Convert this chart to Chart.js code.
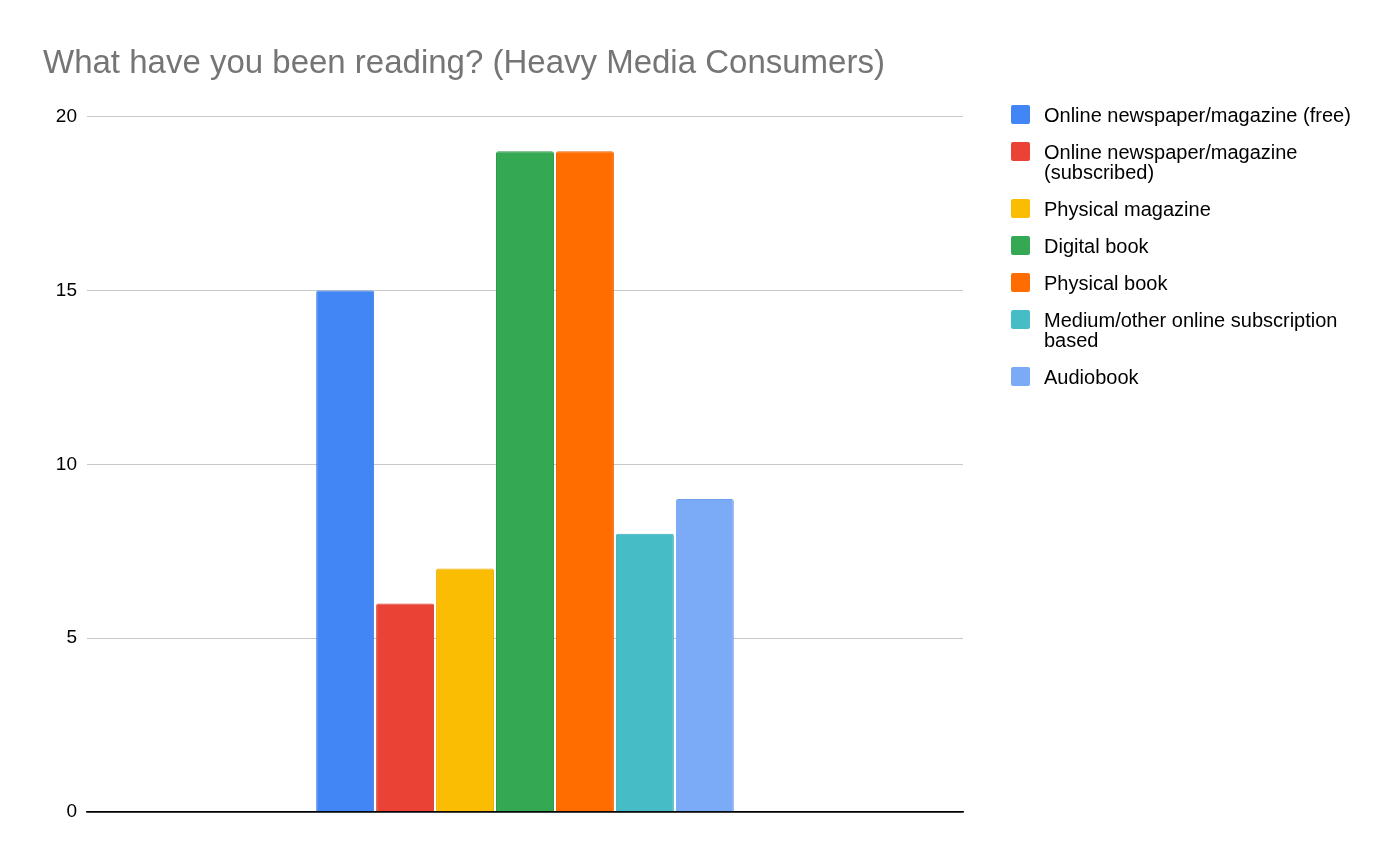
<!DOCTYPE html>
<html>
<head>
<meta charset="utf-8">
<script src="https://cdn.jsdelivr.net/npm/chart.js@4/dist/chart.umd.min.js"></script>
<style>
  html, body { margin: 0; padding: 0; background: #fff; }
  #wrap { position: relative; width: 1400px; height: 865px; }
  #legend { position: absolute; left: 1011px; top: 105px; width: 385px; font-family: Arial, "Liberation Sans", sans-serif; font-size: 20px; color: #000; }
  .item { display: flex; align-items: flex-start; margin-bottom: 17px; line-height: 20px; }
  .swatch { width: 19px; height: 19px; border-radius: 2px; flex: none; margin-right: 14px; margin-top: 0px; }
</style>
</head>
<body>
<div id="wrap">
  <canvas id="chart" width="1400" height="865"></canvas>
  <div id="legend"></div>
</div>
<script>
// Chart data
const categories = [""];
const seriesNames = [
  "Online newspaper/magazine (free)",
  "Online newspaper/magazine (subscribed)",
  "Physical magazine",
  "Digital book",
  "Physical book",
  "Medium/other online subscription based",
  "Audiobook"
];
const seriesValues = [15, 6, 7, 19, 19, 8, 9];
const yTicks = [0, 5, 10, 15, 20];
const colors = ["#4285F4", "#EA4335", "#FBBC04", "#34A853", "#FF6D01", "#46BDC6", "#7BAAF7"];
const borders = ["#3b7ae0", "#d63a2d", "#e8ad00", "#2b9a48", "#ec6400", "#3cadb6", "#6e9df0"];

const datasets = seriesNames.map((name, i) => ({
  label: name,
  data: [seriesValues[i]],
  backgroundColor: colors[i],
  borderColor: borders[i],
  borderWidth: 1,
  borderRadius: 2,
  borderSkipped: "bottom",
  categoryPercentage: 0.479,
  barPercentage: 0.967
}));

const ctx = document.getElementById("chart").getContext("2d");
new Chart(ctx, {
  type: "bar",
  data: { labels: categories, datasets: datasets },
  options: {
    responsive: false,
    animation: false,
    layout: { padding: { left: 43, right: 437, top: 44, bottom: 45 } },
    plugins: {
      legend: { display: false },
      tooltip: { enabled: false },
      title: {
        display: true,
        text: "What have you been reading? (Heavy Media Consumers)",
        align: "start",
        color: "#757575",
        font: { family: "Arial, 'Liberation Sans', sans-serif", size: 33, weight: "normal" },
        padding: { top: 0, bottom: 33 }
      }
    },
    scales: {
      x: {
        grid: { display: false },
        ticks: { display: false },
        border: { display: true, color: "#000", width: 1.5 }
      },
      y: {
        min: 0,
        max: 20,
        afterBuildTicks: (scale) => { scale.ticks = yTicks.map(v => ({ value: v })); },
        afterFit: (scale) => { scale.width = 44; },
        border: { display: false },
        grid: {
          color: (c) => c.tick && c.tick.value === 0 ? "#000" : "#c8c8c8",
          lineWidth: (c) => c.tick && c.tick.value === 0 ? 1.5 : 1,
          drawTicks: false
        },
        ticks: {
          color: "#000",
          padding: 10,
          font: { family: "Arial, 'Liberation Sans', sans-serif", size: 19 }
        }
      }
    }
  }
});

// HTML legend
const legend = document.getElementById("legend");
seriesNames.forEach((name, i) => {
  const item = document.createElement("div");
  item.className = "item";
  const sw = document.createElement("div");
  sw.className = "swatch";
  sw.style.background = colors[i];
  const label = document.createElement("div");
  label.textContent = name;
  label.style.width = "320px";
  item.appendChild(sw);
  item.appendChild(label);
  legend.appendChild(item);
});
</script>
</body>
</html>
